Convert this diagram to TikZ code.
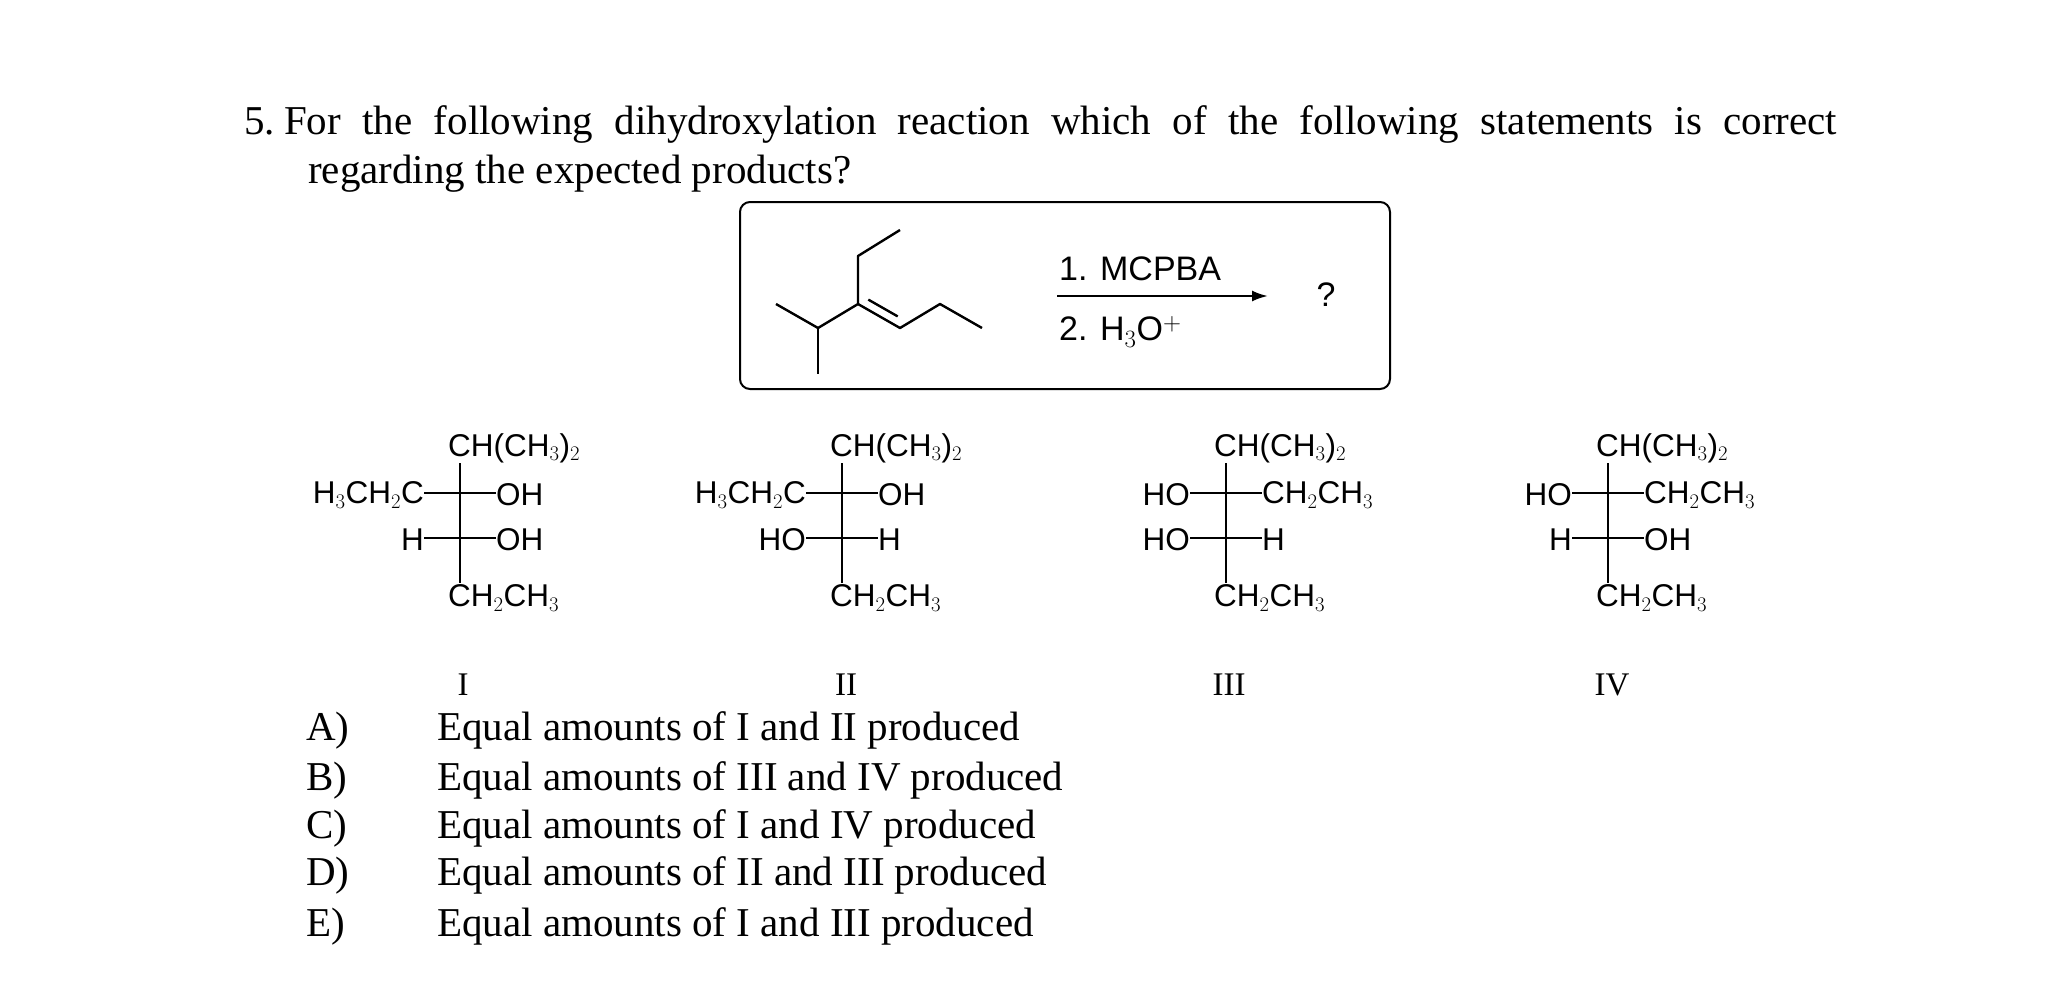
\documentclass[tikz,border=0pt]{standalone}
\usepackage{fontspec}
\usetikzlibrary{calc,arrows.meta}
\setmainfont{Liberation Serif}
\newfontfamily\chemsf{Liberation Sans}
\begin{document}
\begin{tikzpicture}[x=1pt,y=-1pt,
  q/.style={font=\fontsize{41}{47}\selectfont,inner sep=0,anchor=base west},
  ch/.style={font=\chemsf\fontsize{31.5}{36}\selectfont,inner sep=0},
  bond/.style={line width=2.6pt},
  rom/.style={font=\fontsize{33}{38}\selectfont,inner sep=0,anchor=base}]
\useasboundingbox[fill=white] (0,0) rectangle (2046,994);
\node[q] (n5) at (244,134) {5.};
\node[q] (l1) at (284,134) {\makebox[1553pt][s]{For the following dihydroxylation reaction which of the following statements is correct}};
\node[q] (l2) at (308,183) {regarding the expected products?};
% box
\draw[line width=2pt,rounded corners=10] (740,202) rectangle (1390,389);
% molecule
\coordinate (a1) at (776,304);
\coordinate (a2) at (818,328);
\coordinate (a3) at (818,374);
\coordinate (a4) at (858,304);
\coordinate (a5) at (858,256);
\coordinate (a6) at (900,230);
\coordinate (a7) at (900,328);
\coordinate (a8) at (940,304);
\coordinate (a9) at (982,328);
\draw[line width=2.4pt,line join=round] (a1)--(a2)--(a4)--(a5)--(a6);
\draw[line width=2.4pt] (a2)--(a3);
\draw[line width=2.4pt,line join=round] (a4)--(a7)--(a8)--(a9);
\draw[line width=2.4pt] ($(a4)!0.15!(a7)+(4,-8)$) -- ($(a4)!0.85!(a7)+(4,-8)$);
\coordinate (ar1) at (1057,296);
\coordinate (ar2) at (1268,296);
\draw[line width=2.4pt,-{Latex[length=16pt,width=11pt]}] (ar1)--(ar2);
\node[ch,anchor=base west,font=\chemsf\fontsize{34}{38}\selectfont] (r1) at (1059,280) {1. MCPBA};
\node[ch,anchor=base west,font=\chemsf\fontsize{34}{38}\selectfont] (r2) at (1059,340) {2. H$_3$O$^+$};
\node[ch,font=\chemsf\fontsize{34}{38}\selectfont] (qm) at (1326,295) {?};
% Fischer projections
\foreach \cx/\tl/\tr/\bl/\br/\nm in {
  460/H$_3$CH$_2$C/OH/H/OH/I,
  842/H$_3$CH$_2$C/OH/HO/H/II,
  1226/HO/CH$_2$CH$_3$/HO/H/III,
  1608/HO/CH$_2$CH$_3$/H/OH/IV}{
  \coordinate (t\nm) at (\cx,463);
  \coordinate (b\nm) at (\cx,583);
  \draw[bond] (t\nm)--(b\nm);
  \draw[bond] (\cx-36,493)--(\cx+36,493);
  \draw[bond] (\cx-36,538)--(\cx+36,538);
  \node[ch,anchor=west] (top\nm) at (\cx-12,448) {CH(CH$_3$)$_2$};
  \node[ch,anchor=west] (bot\nm) at (\cx-12,598) {CH$_2$CH$_3$};
  \node[ch,anchor=east] (tl\nm) at (\cx-36,495) {\tl};
  \node[ch,anchor=west] (tr\nm) at (\cx+36,495) {\tr};
  \node[ch,anchor=east] (bl\nm) at (\cx-36,540) {\bl};
  \node[ch,anchor=west] (br\nm) at (\cx+36,540) {\br};
}
\node[rom] (rI) at (463,695) {I};
\node[rom] (rII) at (846,695) {II};
\node[rom] (rIII) at (1229,695) {III};
\node[rom] (rIV) at (1612,695) {IV};
% options
\foreach \y/\L/\T in {740/A)/I and II, 790/B)/III and IV, 838/C)/I and IV, 885/D)/II and III, 936/E)/I and III}{
  \node[q] (o\L) at (306,\y) {\L};
  \node[q] (t\L) at (437,\y) {Equal amounts of \T\ produced};
}
\end{tikzpicture}
\end{document}
